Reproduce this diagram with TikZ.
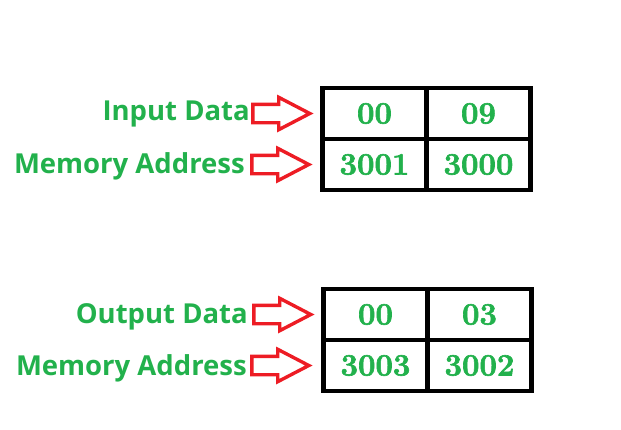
\documentclass[tikz,border=0pt]{standalone}
\usepackage{fontspec}
\newfontfamily\labelfont{Open Sans}
\newfontfamily\digitfont{Latin Modern Roman}[UprightFont=*/B,FakeBold=2]
\usetikzlibrary{positioning,shapes.arrows}
\definecolor{lblgreen}{HTML}{22B14C}
\definecolor{arrred}{HTML}{ED1C24}

\begin{document}
\begin{tikzpicture}[x=1pt,y=-1pt,
				cell/.style={minimum width=104pt,minimum height=51pt,outer sep=0pt,inner sep=0pt,draw,line width=4.5pt,rectangle,node distance=0pt,
					text=lblgreen,font=\digitfont\fontsize{31}{31}\selectfont},
				pointer/.style={single arrow,draw=arrred,line width=3.4pt,inner xsep=0pt,inner ysep=7.5pt,minimum height=57pt,minimum width=29pt,
					single arrow head extend=7pt,single arrow tip angle=55,anchor=tip},
				caption/.style={text=lblgreen,font=\labelfont\fontsize{27.5}{28}\selectfont\bfseries,anchor=base east,inner sep=0pt}]
				\useasboundingbox (0,0) rectangle (621,429);
				% input table
				\node[cell] (IN0)  at (374.5,113.5)  {00};
				\node[cell] (IN1)  [right=of IN0]    {09};
				\node[cell] (MA0)  [below=of IN0]    {3001};
				\node[cell] (MA1)  [right=of MA0]    {3000};
				% output table
				\node[cell] (OUT0) at (375.5,314.5)  {00};
				\node[cell] (OUT1) [right=of OUT0]   {03};
				\node[cell] (MB0)  [below=of OUT0]   {3003};
				\node[cell] (MB1)  [right=of MB0]    {3002};
				
				\node[pointer] (PIN)  at ([xshift=-9pt]IN0.west)  {};
				\node[pointer] (PMA)  at ([xshift=-10pt]MA0.west) {};
				\node[pointer] (POUT) at ([xshift=-9pt]OUT0.west) {};
				\node[pointer] (PMB)  at ([xshift=-11pt]MB0.west) {};
				
				\node[caption] (LIN)  at (250,120.7) {Input Data};
				\node[caption] (LMA)  at (245,173.3) {Memory Address};
				\node[caption] (LOUT) at (248,323.3) {Output Data};
				\node[caption] (LMB)  at (247,375)   {Memory Address};
			\end{tikzpicture}
\end{document}
